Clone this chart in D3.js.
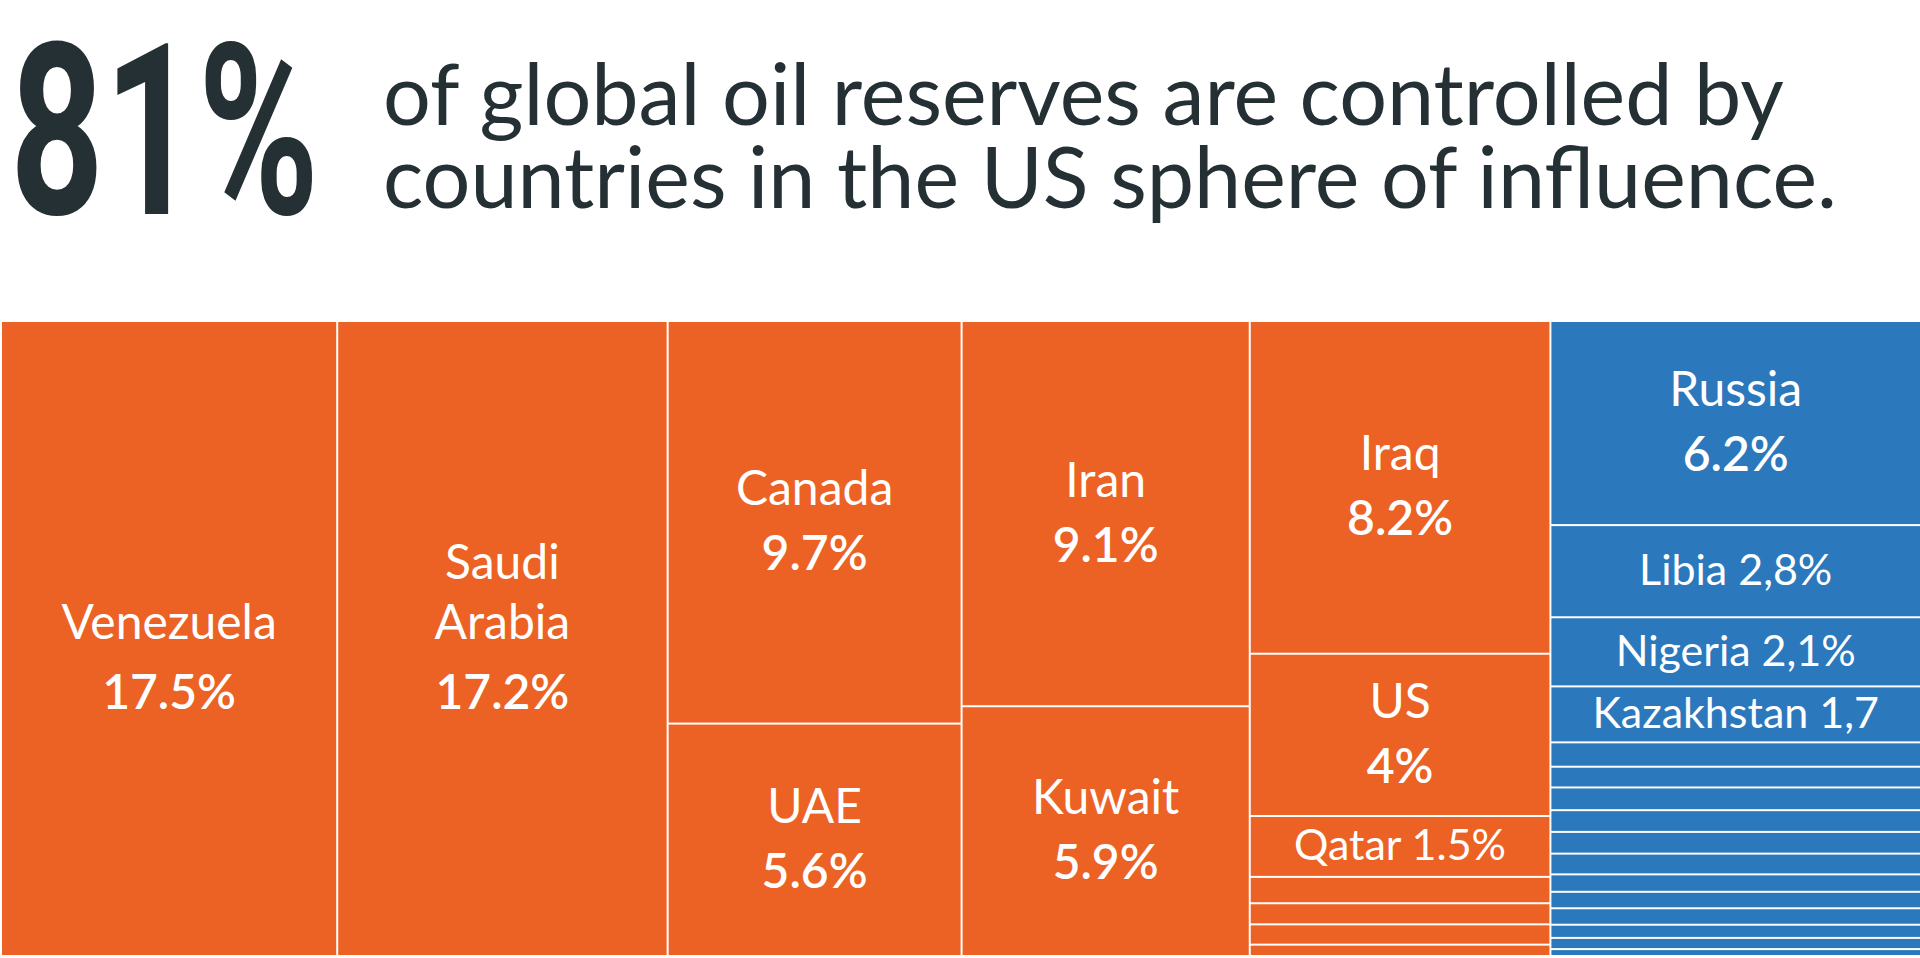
<!DOCTYPE html>
<html>
<head>
<meta charset="utf-8">
<script src="https://cdn.jsdelivr.net/npm/d3@7"></script>
<style>
  html, body { margin: 0; padding: 0; background: #fff; }
  svg { display: block; }
</style>
</head>
<body>
<div id="chart"></div>
<script>
// Countries, their share of global reserves and the label printed on the cell
const countries = ["Venezuela", "Saudi Arabia", "Canada", "UAE", "Iran", "Kuwait", "Iraq", "US", "Qatar",
                   "Russia", "Libia", "Nigeria", "Kazakhstan"];
const shares    = [17.5, 17.2, 9.7, 5.6, 9.1, 5.9, 8.2, 4, 1.5, 6.2, 2.8, 2.1, 1.7];
const shareText = ["17.5%", "17.2%", "9.7%", "5.6%", "9.1%", "5.9%", "8.2%", "4%", "1.5%",
                   "6.2%", "2,8%", "2,1%", "1,7"];
const column    = [0, 1, 2, 2, 3, 3, 4, 4, 4, 5, 5, 5, 5];
const sphere    = ["US", "US", "US", "US", "US", "US", "US", "US", "US",
                   "Other", "Other", "Other", "Other"];

// Unlabelled smaller producers
const smallUS    = [0.65, 0.52, 0.5, 0.28];
const smallOther = [0.74, 0.63, 0.69, 0.66, 0.66, 0.63, 0.53, 0.5, 0.5, 0.4, 0.34, 0.21];

const headline = "81%";
const subtitle = ["of global oil reserves are controlled by", "countries in the US sphere of influence."];

let svgWidth = 1920, svgHeight = 958;
let map = { left: 2, top: 322, width: 1918, height: 633 };

let svg = d3.select('#chart')
            .append('svg')
            .attr('width', svgWidth)
            .attr('height', svgHeight);

// Headline
let ink = '#243033';
let big = svg.append('text')
            .attr('font-family', 'Roboto, sans-serif')
            .attr('font-weight', 700)
            .attr('font-size', 240)
            .attr('fill', ink)
            .text(headline);
let bigW = big.node().getComputedTextLength();
big.attr('transform', `translate(10, 214) scale(${309 / bigW}, 1)`);

// Subtitle, two lines in one text element
let sub = svg.append('text')
            .attr('font-family', 'Lato, sans-serif')
            .attr('font-size', 86)
            .attr('fill', ink);
let subLines = sub.selectAll('tspan')
            .data(subtitle)
            .enter()
            .append('tspan')
            .attr('x', 0)
            .attr('y', (d, i) => i * 83)
            .text(d => d);
let w1 = subLines.nodes()[0].getComputedTextLength();
sub.attr('transform', `translate(383, 125) scale(${1401 / w1}, 1)`);

// Build hierarchy: columns sliced into countries
let cols = d3.range(6).map(c => ({ children: [] }));
countries.forEach((name, i) => {
    cols[column[i]].children.push({ name: name, value: shares[i], text: shareText[i], sphere: sphere[i] });
});
smallUS.forEach(v => cols[4].children.push({ name: '', value: v, sphere: 'US' }));
smallOther.forEach(v => cols[5].children.push({ name: '', value: v, sphere: 'Other' }));

let root = d3.hierarchy({ children: cols }).sum(d => d.value || 0);

d3.treemap()
    .tile(d3.treemapSliceDice)
    .size([map.width, map.height])
    .paddingInner(2)(root);

let color = d3.scaleOrdinal()
            .domain(['US', 'Other'])
            .range(['#EC6224', '#2C78BD']);

let mapGrp = svg.append('g')
            .attr('transform', `translate(${map.left}, ${map.top})`);

let cells = mapGrp.selectAll('g.cell')
            .data(root.leaves())
            .enter()
            .append('g')
            .attr('class', 'cell');

cells.append('rect')
    .attr('x', d => d.x0)
    .attr('y', d => d.y0)
    .attr('width', d => d.x1 - d.x0)
    .attr('height', d => d.y1 - d.y0)
    .attr('fill', d => color(d.data.sphere));

// Labels: big cells get name over bold share, small ones one line
let labelled = cells.filter(d => d.data.name);

labelled.each(function(d) {
    let g = d3.select(this);
    let cx = (d.x0 + d.x1) / 2, cy = (d.y0 + d.y1) / 2;
    if (d.data.value < 3) {
        g.append('text')
            .attr('x', cx)
            .attr('y', cy + 14)
            .attr('text-anchor', 'middle')
            .attr('font-family', 'Lato, sans-serif')
            .attr('font-size', 43)
            .attr('fill', '#fff')
            .text(`${d.data.name} ${d.data.text}`);
    } else {
        // full-height columns carry their label a bit lower
        let tall = d.y1 - d.y0 > 500;
        let nameY = cy + (tall ? 0 : -17);
        let pctY = cy + (tall ? 70 : 48);
        let lines = d.data.name.split(' ');
        g.append('text')
            .attr('text-anchor', 'middle')
            .attr('font-family', 'Lato, sans-serif')
            .attr('font-size', 48)
            .attr('fill', '#fff')
            .selectAll('tspan')
            .data(lines)
            .enter()
            .append('tspan')
            .attr('x', cx)
            .attr('y', (ln, k) => nameY - (lines.length - 1 - k) * 60)
            .text(ln => ln);
        g.append('text')
            .attr('x', cx)
            .attr('y', pctY)
            .attr('text-anchor', 'middle')
            .attr('font-family', 'Lato, sans-serif')
            .attr('font-weight', 600)
            .attr('font-size', 48)
            .attr('fill', '#fff')
            .text(d.data.text);
    }
});
</script>
</body>
</html>
